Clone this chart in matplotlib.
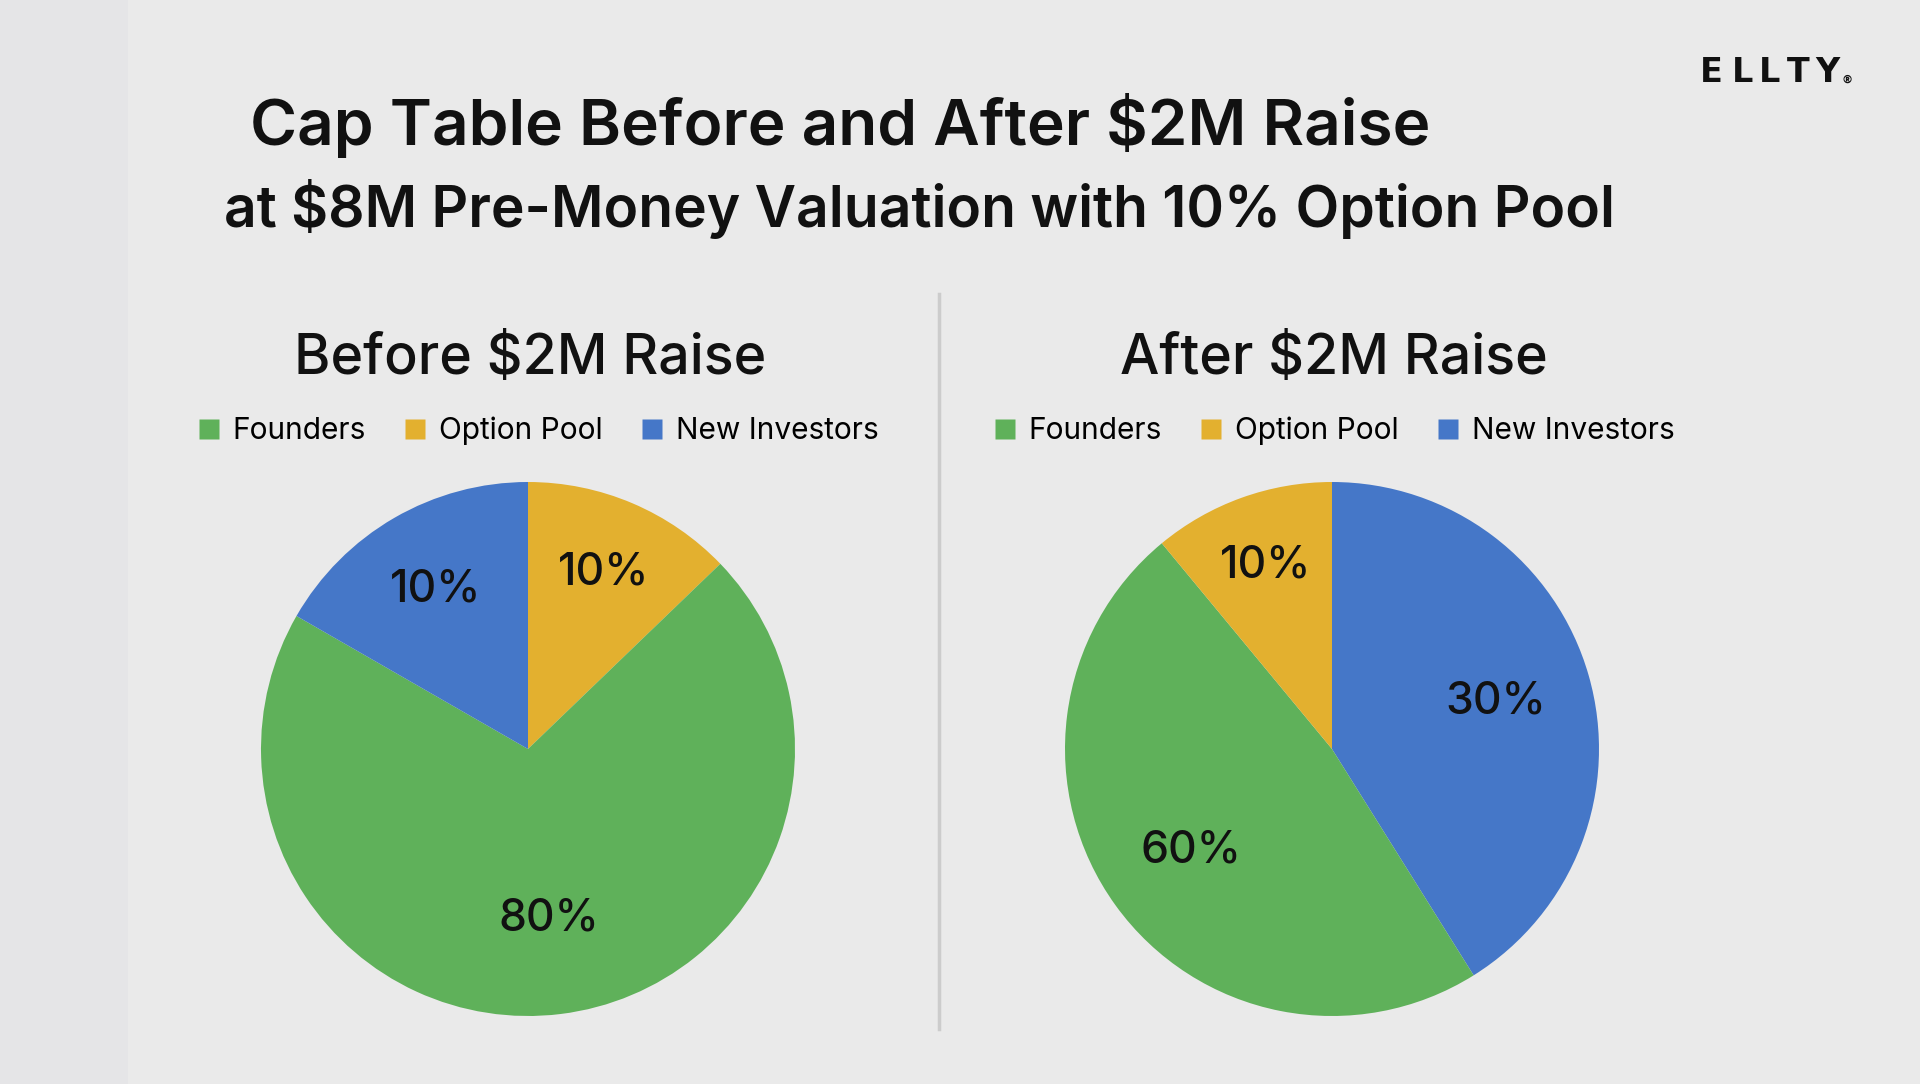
import matplotlib
matplotlib.use("Agg")
import matplotlib.pyplot as plt
from matplotlib.patches import Rectangle
from matplotlib.lines import Line2D
import numpy as np

# ---- data ----
categories = ["Founders", "Option Pool", "New Investors"]
colors = {"Founders": "#5fb15a", "Option Pool": "#e3b02f", "New Investors": "#4577c8"}

# slice sizes as drawn (share of the circle, %), in clockwise order from 12 o'clock
before_order = ["Option Pool", "Founders", "New Investors"]
before_sizes = [12.8, 70.5, 16.7]
before_labels = ["10%", "80%", "10%"]

after_order = ["New Investors", "Founders", "Option Pool"]
after_sizes = [41.1, 47.9, 11.0]
after_labels = ["30%", "60%", "10%"]

title = "Cap Table Before and After $2M Raise"
subtitle = "at $8M Pre-Money Valuation with 10% Option Pool"
panel_titles = ["Before $2M Raise", "After $2M Raise"]
logo = "ELLTY"

W, H = 1920, 1084
BG = "#eaeaea"
FONT = "Inter"

fig = plt.figure(figsize=(W / 100, H / 100), dpi=100, facecolor=BG)

def fx(x):
    return x / W

def fy(y):
    return 1 - y / H

# subtle left strip
fig.patches.append(Rectangle((0, 0), fx(128), 1, transform=fig.transFigure,
                             facecolor="#e5e5e7", edgecolor="none", zorder=0))

# titles
fig.text(fx(840), fy(125), title, ha="center", va="center", fontsize=46,
         family=FONT, fontweight="semibold", color="#111111")
fig.text(fx(920), fy(209), subtitle, ha="center", va="center", fontsize=41,
         family=FONT, fontweight="semibold", color="#111111")

# logo (wide lettering: letters placed individually)
logo_x = [1711, 1743, 1770, 1798, 1827]
for ch, lx in zip(logo, logo_x):
    fig.text(fx(lx), fy(73), ch, ha="center", va="center", fontsize=24,
             family="DejaVu Sans", fontweight="heavy", color="#111111")
fig.text(fx(1847), fy(80), "®", ha="center", va="center", fontsize=8,
         family="DejaVu Sans", fontweight="bold", color="#111111")

# divider
fig.add_artist(Line2D([fx(939), fx(939)], [fy(294), fy(1029)], transform=fig.transFigure,
                      color="#cccccc", linewidth=2.5))

R = 267
panels = [
    (528, before_order, before_sizes, before_labels, [0.72, 0.64, 0.69], panel_titles[0], 10),
    (1332, after_order, after_sizes, after_labels, [0.64, 0.65, 0.73], panel_titles[1], 2),
]

for cx, order, sizes, labels, dists, ptitle, leg_off in panels:
    cy = 749
    ax = fig.add_axes([fx(cx - R), fy(cy + R), 2 * R / W, 2 * R / H])
    ax.set_facecolor("none")
    wedges, _ = ax.pie(sizes, colors=[colors[c] for c in order], startangle=90,
                       counterclock=False, radius=1.0,
                       wedgeprops=dict(linewidth=0, edgecolor="none"))
    ax.set_xlim(-1, 1)
    ax.set_ylim(-1, 1)
    ax.set_aspect("equal")
    ax.axis("off")
    for w, lab, d in zip(wedges, labels, dists):
        ang = np.deg2rad((w.theta1 + w.theta2) / 2)
        ax.text(d * np.cos(ang), d * np.sin(ang), lab, ha="center", va="center",
                fontsize=32, family=FONT, fontweight="medium", color="#111111")

    # panel title
    fig.text(fx(cx + 2), fy(359), ptitle, ha="center", va="center", fontsize=40,
             family=FONT, fontweight="medium", color="#111111")

    # legend
    handles = [Line2D([], [], marker="s", linestyle="none", markersize=14,
                      markerfacecolor=colors[c], markeredgecolor="none") for c in categories]
    fig.legend(handles, categories, loc="center", bbox_to_anchor=(fx(cx + leg_off), fy(431)),
               ncol=3, frameon=False, handlelength=0.8, handletextpad=0.4,
               columnspacing=1.25, prop=dict(family=FONT, size=21.5))

fig.savefig("out.png", dpi=100, facecolor=BG)
